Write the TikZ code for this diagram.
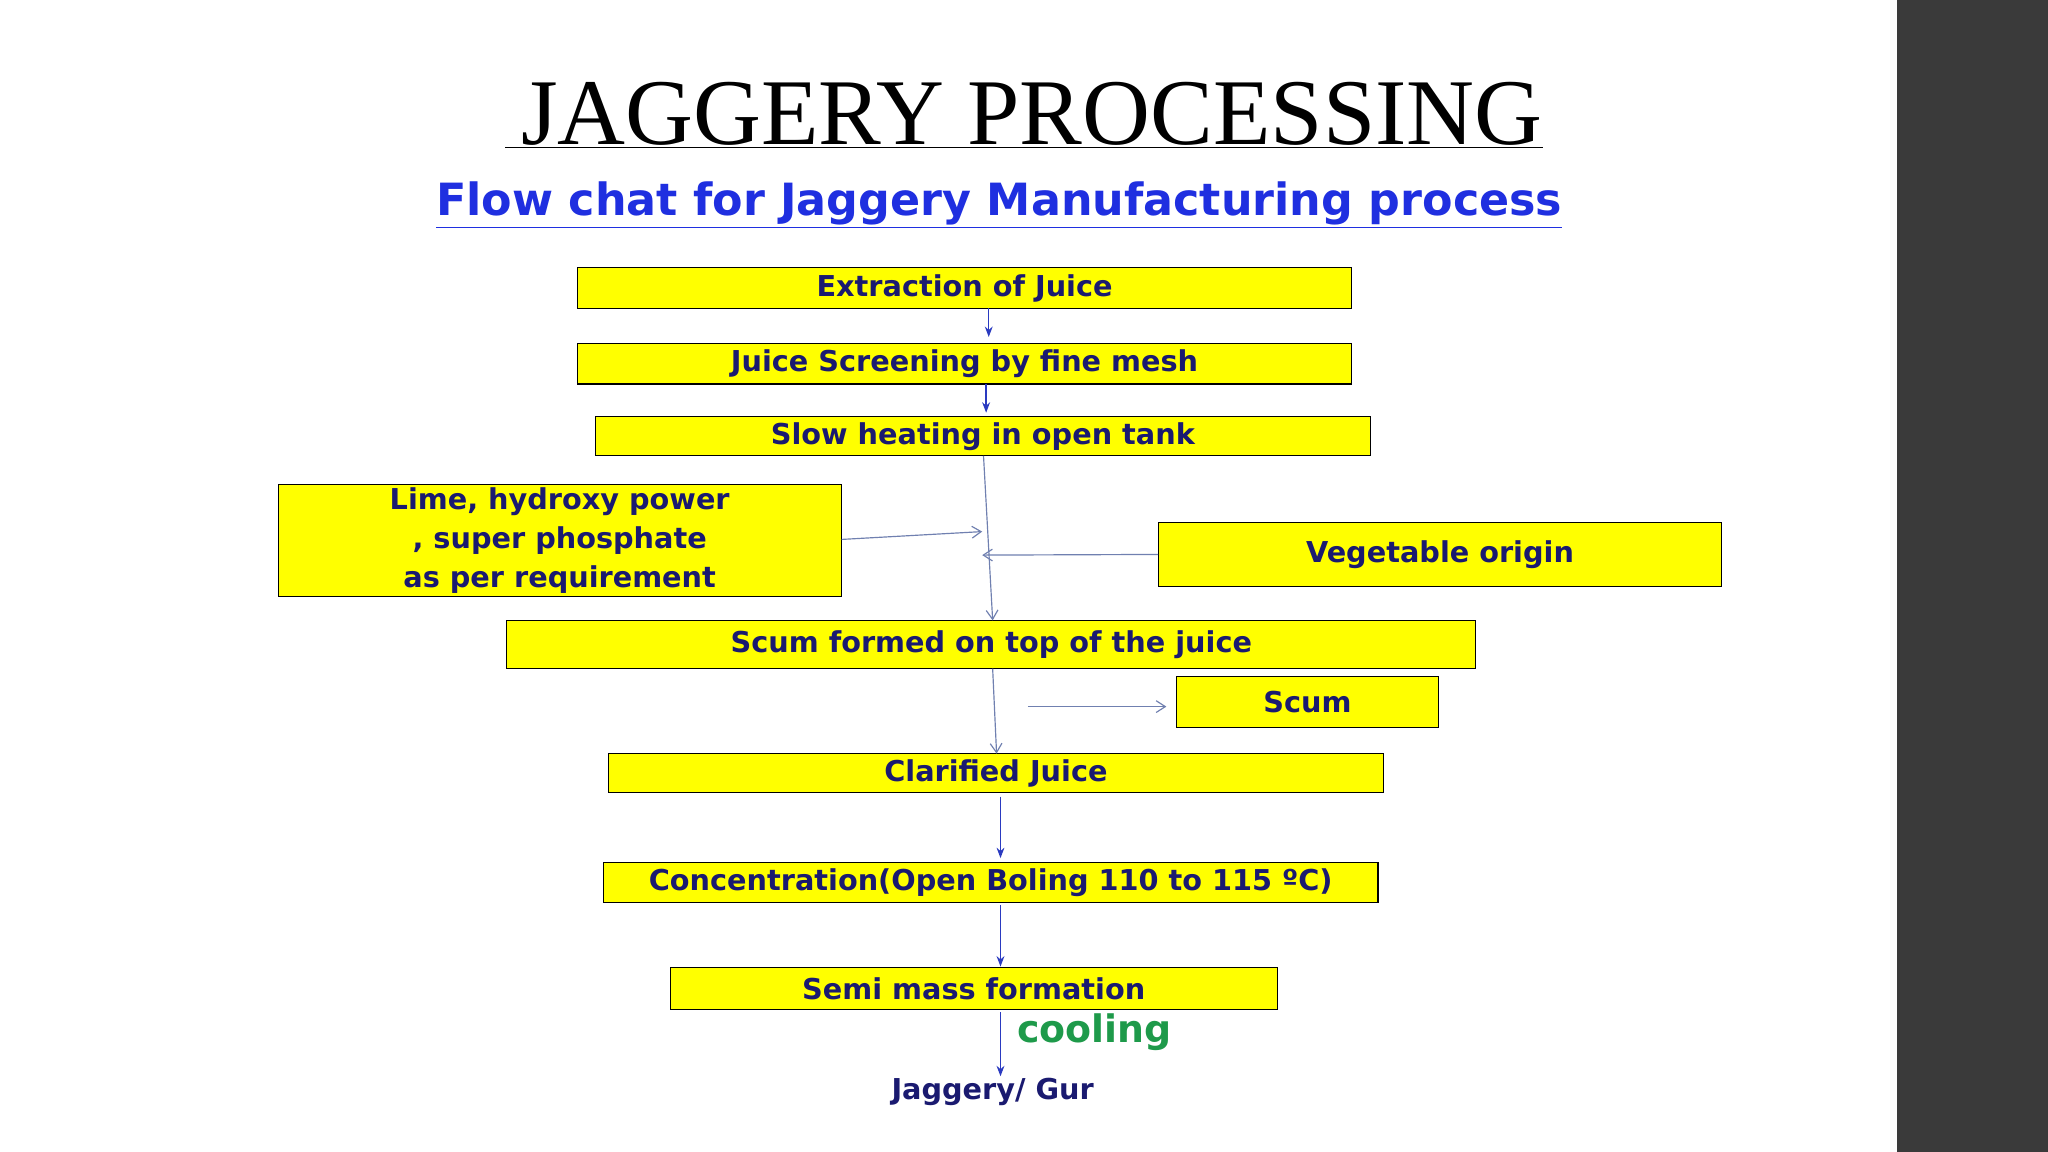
\documentclass[tikz,border=0pt]{standalone}
\usepackage{fontspec}
\setmainfont{DejaVu Sans}
\newfontfamily\serifx{Liberation Serif}
\usetikzlibrary{arrows.meta}
\definecolor{navy}{HTML}{1A1A70}
\definecolor{fblue}{HTML}{1F2FE0}
\definecolor{ybox}{HTML}{FFFF00}
\definecolor{darkbar}{HTML}{3A3A3A}
\definecolor{gcool}{HTML}{1E9A4A}
\definecolor{arrb}{HTML}{2A3AC0}
\definecolor{arrg}{HTML}{7080B0}
\begin{document}
\begin{tikzpicture}[x=1pt,y=-1pt,
  box/.style={draw=black,line width=0.8pt,fill=ybox,inner sep=0pt,
     font=\fontsize{22}{30}\selectfont\bfseries,text=navy,align=center},
  arr/.style={draw=arrb,line width=1pt,-{Stealth[length=8pt,width=6pt]}},
  garr/.style={draw=arrg,line width=0.9pt,-{Straight Barb[length=7pt,width=9pt]}}]
\useasboundingbox (0,0) rectangle (1568,882);
\fill[white] (0,0) rectangle (1568,882);
\fill[darkbar] (1452,0) rectangle (1568,882);
\node[font=\serifx\fontsize{72}{80}\selectfont] (title) at (784,88) {\underline{\,JAGGERY PROCESSING}};
\node[font=\fontsize{34}{40}\selectfont\bfseries,text=fblue] (sub) at (765,157) {\underline{Flow chat for Jaggery Manufacturing process}};
\newcommand{\bx}[6]{\node[box,minimum width={#4-#2},minimum height={#5-#3}] (#1) at ({(#2+#4)/2},{(#3+#5)/2}) {#6};}
\bx{b1}{442}{205}{1035}{236}{Extraction of Juice}
\bx{b2}{442}{263}{1035}{294}{Juice Screening by fine mesh}
\bx{b3}{456}{319}{1049}{349}{Slow heating in open tank}
\bx{b4}{213}{371}{644}{457}{Lime, hydroxy power\\, super phosphate\\ as per requirement}
\bx{b5}{887}{400}{1318}{449}{Vegetable origin}
\bx{b6}{388}{475}{1130}{512}{Scum formed on top of the juice}
\bx{b7}{901}{518}{1101}{557}{Scum}
\bx{b8}{466}{577}{1059}{607}{Clarified Juice}
\bx{b9}{462}{660}{1055}{691}{Concentration(Open Boling 110 to 115 ºC)}
\bx{b10}{513}{741}{978}{773}{Semi mass formation}
\node[font=\fontsize{22}{27}\selectfont\bfseries,text=navy] (gur) at (760,836) {Jaggery/ Gur};
\node[font=\fontsize{29}{34}\selectfont\bfseries,text=gcool] (cool) at (838,790) {cooling};
\draw[arr] (757,236) -- (757,258);
\draw[arr] (755,294) -- (755,316);
\draw[garr] (753,349) -- (760,475);
\coordinate (j1) at (752,407);
\coordinate (j2) at (752,425);
\draw[garr] (b4.east |- 0,413) -- (j1);
\draw[garr] (b5.west) -- (j2);
\draw[garr] (760,512) -- (763,577);
\coordinate (s0) at (787,541);
\coordinate (s1) at (893,541);
\draw[garr] (s0) -- (s1);
\draw[arr] (766,610) -- (766,657);
\draw[arr] (766,693) -- (766,740);
\draw[arr] (766,775) -- (766,824);
\end{tikzpicture}
\end{document}
